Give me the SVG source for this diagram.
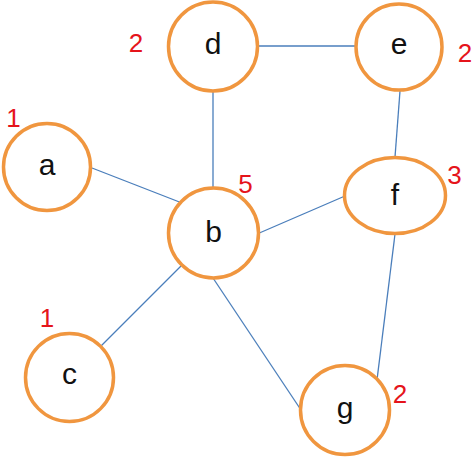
<svg xmlns="http://www.w3.org/2000/svg" width="474" height="458" viewBox="0 0 474 458">
<style>
.node{fill:#fff;stroke:#F0963F;stroke-width:3.5}
.lbl{font-family:"Liberation Sans",Arial,sans-serif;font-size:30px;fill:#111;text-anchor:middle}
.deg{font-family:"Liberation Sans",Arial,sans-serif;font-size:26px;fill:#E5141B;text-anchor:middle}
.edge{stroke:#4A7EBB;stroke-width:1.3;fill:none}
</style>
<rect width="474" height="458" fill="#fff"/>
<g id="connectors">
<line class="edge" x1="92" y1="168" x2="182" y2="203"/>
<line class="edge" x1="213" y1="91" x2="213" y2="188"/>
<line class="edge" x1="259" y1="46" x2="355" y2="46"/>
<line class="edge" x1="400" y1="91" x2="395" y2="157"/>
<line class="edge" x1="257" y1="234" x2="345" y2="196"/>
<line class="edge" x1="395" y1="234" x2="377" y2="380"/>
<line class="edge" x1="213" y1="278" x2="301" y2="410"/>
<line class="edge" x1="181" y1="266" x2="100" y2="347"/>
</g>
<g id="node-a"><circle class="node" cx="47" cy="167" r="43.5"/><text class="lbl" x="47" y="175">a</text><text class="deg" x="13.5" y="127">1</text></g>
<g id="node-b"><circle class="node" cx="213.5" cy="233" r="45"/><text class="lbl" x="213.5" y="242">b</text><text class="deg" x="245.5" y="193">5</text></g>
<g id="node-c"><circle class="node" cx="69.5" cy="377.5" r="44"/><text class="lbl" x="69.5" y="384">c</text><text class="deg" x="47" y="327">1</text></g>
<g id="node-d"><circle class="node" cx="213" cy="46.5" r="44.5"/><text class="lbl" x="213" y="54">d</text><text class="deg" x="136" y="52">2</text></g>
<g id="node-e"><circle class="node" cx="399" cy="47" r="43"/><text class="lbl" x="399" y="54">e</text><text class="deg" x="465" y="62">2</text></g>
<g id="node-f"><ellipse class="node" cx="395" cy="195.5" rx="50.5" ry="38"/><text class="lbl" x="395" y="205">f</text><text class="deg" x="454.5" y="184">3</text></g>
<g id="node-g"><circle class="node" cx="345" cy="410" r="44.5"/><text class="lbl" x="345" y="418">g</text><text class="deg" x="400" y="403">2</text></g>
</svg>
